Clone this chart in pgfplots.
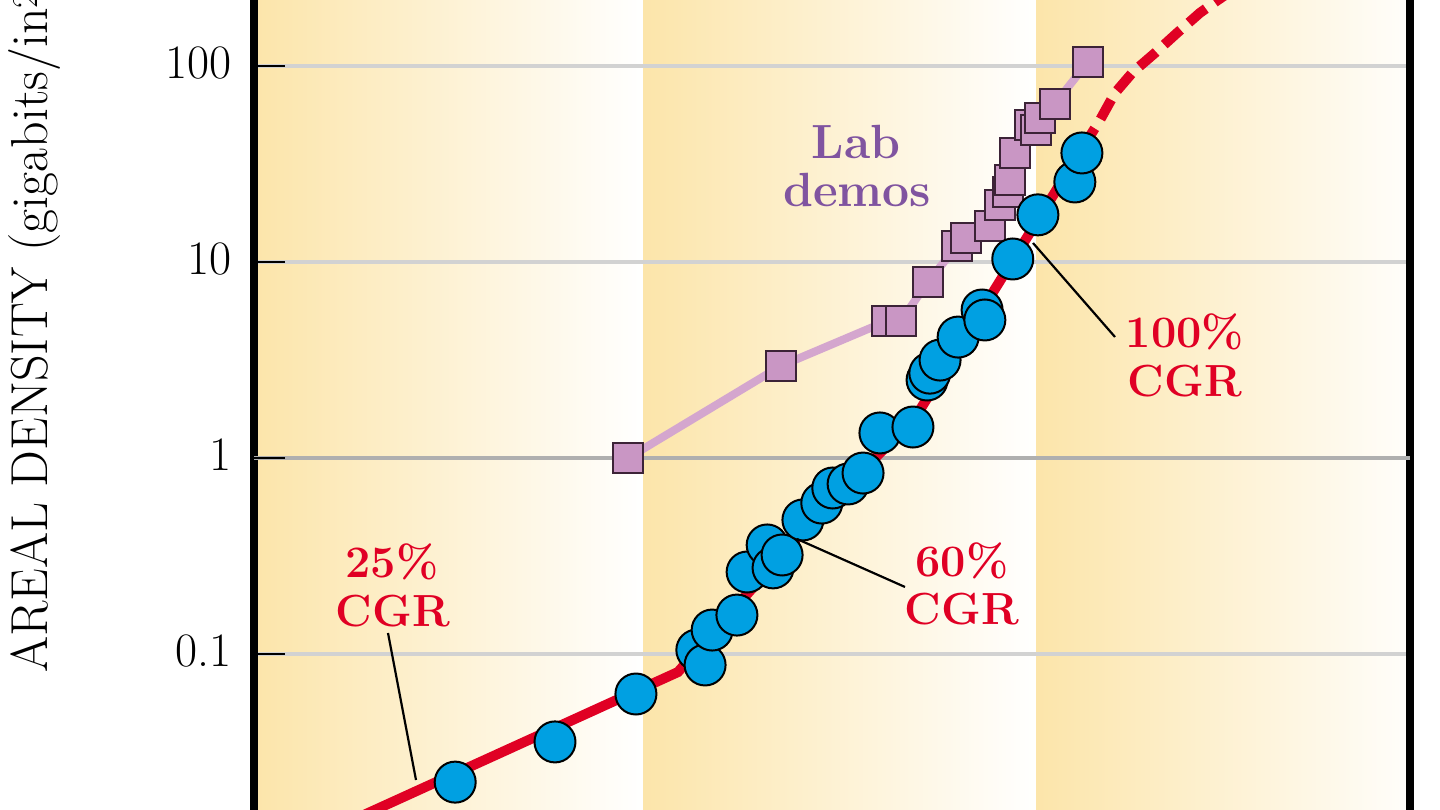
\documentclass[border=0pt]{standalone}
\usepackage{pgfplots}
\pgfplotsset{compat=1.18}

\definecolor{bandyel}{RGB}{252,229,170}
\definecolor{gridgray}{RGB}{210,210,210}
\definecolor{onegray}{RGB}{175,175,175}
\definecolor{dotblue}{RGB}{0,160,226}
\definecolor{trendred}{RGB}{224,0,36}
\definecolor{labfill}{RGB}{201,150,196}
\definecolor{labline}{RGB}{212,166,206}
\definecolor{labtext}{RGB}{128,84,160}
\definecolor{sqedge}{RGB}{60,35,55}

% products shipped (areal density, Gbit/in^2)
\pgfplotstableread{
year    density
1985.22 0.0222
1987.76 0.0356
1989.82 0.0625
1991.37 0.1048
1991.58 0.0879
1991.76 0.1325
1992.39 0.158
1992.65 0.262
1993.16 0.360
1993.31 0.275
1993.54 0.320
1994.07 0.483
1994.55 0.589
1994.83 0.703
1995.22 0.737
1995.60 0.838
1996.03 1.342
1996.87 1.439
1997.23 2.50
1997.30 2.71
1997.56 3.16
1998.02 4.14
1998.63 5.69
1998.70 5.06
1999.41 10.36
2000.05 17.4
2000.99 25.6
2001.17 36.0
}\drives

% lab demos
\pgfplotstableread{
year    density
1989.62 1.0
1993.51 2.95
1996.21 5.0
1996.56 5.0
1997.25 7.91
1997.99 12.07
1998.22 13.3
1998.83 15.3
1999.08 19.5
1999.29 22.8
1999.34 26.2
1999.47 36.0
1999.85 50.0
2000.00 47.2
2000.10 54.3
2000.48 64.0
2001.32 104.8
}\demos

% growth trend (25%, 60%, 100% CGR)
\pgfplotstableread{
year    density
1982.00 0.0125
1990.89 0.0809
1994.33 0.483
1996.92 1.60
2001.20 38.6
}\trend

\pgfplotstableread{
year    density
2001.20 38.6
2001.63 53.0
2002.01 72.8
2002.47 93.2
2003.03 116.5
2003.59 147.3
2004.17 186.4
2004.63 217
2005.45 281
}\projection

\begin{document}
\begin{tikzpicture}[x=1pt,y=1pt]
\path[use as bounding box] (0,0) rectangle (1440,810);
\clip (0,0) rectangle (1440,810);

% decade bands
\begin{scope}
\clip (254,0) rectangle (1410,810);
\shade[left color=bandyel, right color=white] (254,0) rectangle (643,810);
\shade[left color=bandyel, right color=white] (643,0) rectangle (1036,810);
\shade[left color=bandyel, right color=white] (1036,0) rectangle (1429,810);
\end{scope}

\begin{axis}[
  at={(254pt,-40pt)}, anchor=south west,
  scale only axis, width=1156pt, height=980pt,
  xmin=1980.1, xmax=2009.52,
  ymode=log, ymin=0.01, ymax=1000,
  xtick=\empty,
  ytick={0.1,1,10,100},
  yticklabels={0.1,1,10,100},
  yminorticks=false,
  ytick pos=left,
  tick align=inside,
  major tick length=31pt,
  tick style={black, line width=1.8pt},
  ymajorgrids,
  major grid style={draw=gridgray, line width=3.3pt},
  extra y ticks={1},
  extra y tick labels={},
  extra y tick style={grid=major, major grid style={draw=onegray, line width=3.3pt}},
  axis line style={black, line width=8pt},
  /pgf/number format/assume math mode=true,
  yticklabel style={font=\fontsize{48}{50}\selectfont, inner sep=0pt,
                    xshift=-22pt, yshift=3pt},
]
\addplot[labline, line width=8pt, no markers] table {\demos};
\addplot[only marks, mark=square*, mark size=15pt,
         mark options={fill=labfill, draw=sqedge, line width=1.8pt}] table {\demos};
\addplot[only marks, mark=*, mark size=20.5pt,
         mark options={fill=dotblue, draw=black, line width=2pt}] table {\drives};
\addplot[trendred, line width=10pt, no markers] table {\trend};
\addplot[trendred, line width=10pt, no markers,
         dash pattern=on 22pt off 11pt] table {\projection};
\end{axis}

% axis title (cut by the top edge, as in the source)
\node[rotate=90, anchor=base west, inner sep=0pt,
      font=\fontsize{52}{54}\selectfont] at (47,137)
  {AREAL DENSITY (gigabits/in\textsuperscript{2})};

% annotations
\begin{scope}[every node/.style={anchor=base, inner sep=0pt,
              font=\bfseries\fontsize{45}{49}\selectfont, text=trendred}]
\node at (392,232) {25\%};
\node at (393,183) {CGR};
\node at (962,233) {60\%};
\node at (962,185) {CGR};
\node at (1185,462) {100\%};
\node at (1185,413) {CGR};
\node[text=labtext, font=\bfseries\fontsize{48}{50}\selectfont] at (856,651) {Lab};
\node[text=labtext, font=\bfseries\fontsize{48}{50}\selectfont] at (857,603) {demos};
\end{scope}

\draw[line width=2.2pt] (388,177) -- (416,30);
\draw[line width=2.2pt] (797,271) -- (905,223);
\draw[line width=2.2pt] (1033,567) -- (1115,473);
\end{tikzpicture}
\end{document}
